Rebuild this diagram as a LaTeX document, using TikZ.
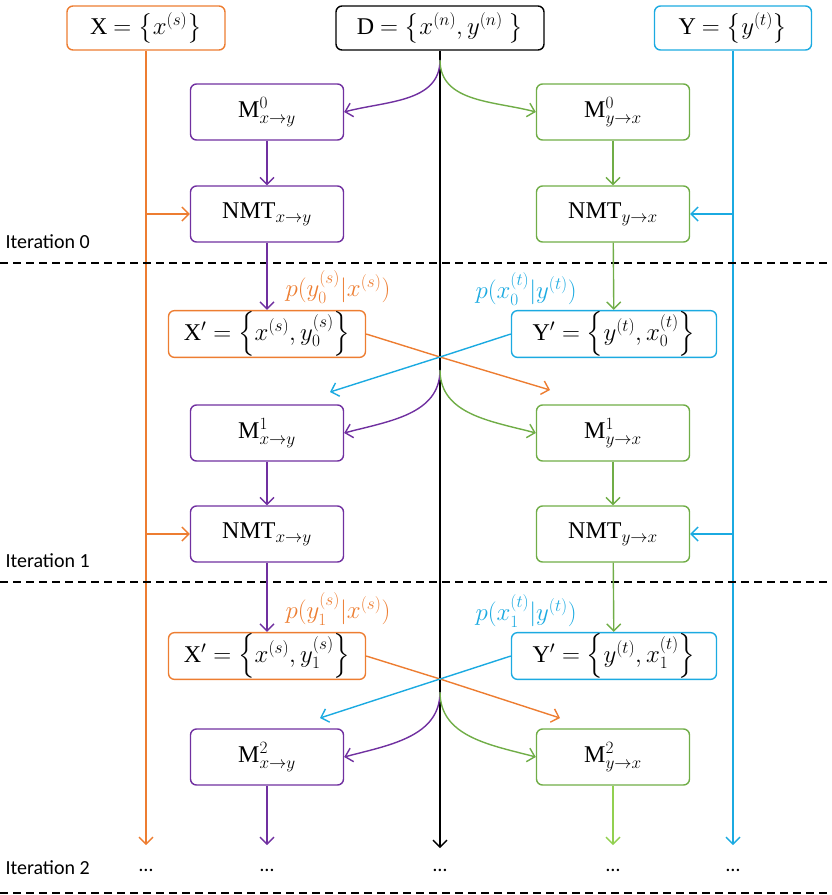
\documentclass[tikz,border=0pt]{standalone}
\usepackage{fontspec}
\setmainfont{Carlito}
\newfontfamily\boxfont{Liberation Serif}
\usepackage{amsmath}
\usetikzlibrary{arrows.meta}
\definecolor{cor}{RGB}{237,125,49}
\definecolor{cpu}{RGB}{112,48,160}
\definecolor{cgr}{RGB}{112,173,71}
\definecolor{clg}{RGB}{146,208,80}
\definecolor{cbl}{RGB}{27,170,225}
\begin{document}
\begin{tikzpicture}[x=1pt,y=-1pt,
  bx/.style={draw,rounded corners=6pt,line width=1.4pt,minimum height=44pt,inner sep=1pt,font=\boxfont\fontsize{24}{28}\selectfont},
  mb/.style={bx,minimum width=153pt,minimum height=56pt},
  ar/.style={line width=1.4pt,-{Straight Barb[length=7pt,width=14pt,line width=1.4pt]}},
  lab/.style={font=\fontsize{24}{28}\selectfont,anchor=west},
  it/.style={font=\fontsize{20}{24}\selectfont,anchor=west},
  dl/.style={dashed,line width=1.2pt,dash pattern=on 8pt off 5pt}]
\useasboundingbox (0,0) rectangle (832,895);
\node[bx,cor,text=black,minimum width=158pt] (X) at (146,28) {X $=\left\{x^{(s)}\right\}$};
\node[bx,black,minimum width=208pt] (D) at (440,28) {D $=\left\{x^{(n)},y^{(n)}\ \right\}$};
\node[bx,cbl,text=black,minimum width=157pt] (Y) at (733,28) {Y $=\left\{y^{(t)}\right\}$};
% iteration 0
\node[mb,cpu,text=black] (M0a) at (267,112) {M$^0_{x\to y}$};
\node[mb,cpu,text=black] (N0a) at (267,214) {NMT$_{x\to y}$};
\node[mb,cgr,text=black] (M0b) at (613,112) {M$^0_{y\to x}$};
\node[mb,cgr,text=black] (N0b) at (613,214) {NMT$_{y\to x}$};
\node[bx,cor,text=black,minimum width=197pt,minimum height=46pt] (Xp0) at (267,334) {X$'=\left\{x^{(s)},y^{(s)}_0\right\}$};
\node[bx,cbl,text=black,minimum width=205pt,minimum height=46pt] (Yp0) at (614,334) {Y$'=\left\{y^{(t)},x^{(t)}_0\right\}$};
\node[mb,cpu,text=black] (M1a) at (267,433) {M$^1_{x\to y}$};
\node[mb,cpu,text=black] (N1a) at (267,534) {NMT$_{x\to y}$};
\node[mb,cgr,text=black] (M1b) at (613,433) {M$^1_{y\to x}$};
\node[mb,cgr,text=black] (N1b) at (613,534) {NMT$_{y\to x}$};
\node[bx,cor,text=black,minimum width=197pt,minimum height=46pt] (Xp1) at (267,656) {X$'=\left\{x^{(s)},y^{(s)}_1\right\}$};
\node[bx,cbl,text=black,minimum width=205pt,minimum height=46pt] (Yp1) at (614,656) {Y$'=\left\{y^{(t)},x^{(t)}_1\right\}$};
\node[mb,cpu,text=black] (M2a) at (267,757) {M$^2_{x\to y}$};
\node[mb,cgr,text=black] (M2b) at (613,757) {M$^2_{y\to x}$};
% labels
\node[lab,cor] (l0a) at (282,287) {$p(y^{(s)}_0|x^{(s)})$};
\node[lab,cbl] (l0b) at (472,289) {$p(x^{(t)}_0|y^{(t)})$};
\node[lab,cor] (l1a) at (282,609) {$p(y^{(s)}_1|x^{(s)})$};
\node[lab,cbl] (l1b) at (472,611) {$p(x^{(t)}_1|y^{(t)})$};
\node[it] (i0) at (2,242) {Iteration 0};
\node[it] (i1) at (2,561) {Iteration 1};
\node[it] (i2) at (2,868) {Iteration 2};
% dots
\foreach \n/\x in {d1/146,d2/267,d3/440,d4/613,d5/733}
  \node[font=\fontsize{20}{24}\selectfont] (\n) at (\x,870) {\dots};
% coordinates
\coordinate (eO) at (146,845); \coordinate (eD) at (440,848); \coordinate (eB) at (733,845);
\coordinate (eM) at (267,845); \coordinate (eG) at (613,845);
\coordinate (c0) at (440,357); \coordinate (c1) at (440,679);
\coordinate (s0) at (440,60); \coordinate (s1) at (440,370); \coordinate (s2) at (440,692);
\coordinate (t0o) at (550,390); \coordinate (t0b) at (330,392);
\coordinate (t1o) at (560,718); \coordinate (t1b) at (320,718);
% main lines
\draw[ar,cor] (X.south) -- (eO);
\draw[ar,black] (D.south) -- (eD);
\draw[ar,cbl] (Y.south) -- (eB);
\foreach \y/\t in {214/N0a,534/N1a} \draw[ar,cor] (146,\y) -- (\t.west);
\foreach \y/\t in {214/N0b,534/N1b} \draw[ar,cbl] (733,\y) -- (\t.east);
% dashed
\draw[dl] (0,263) -- (832,263);
\draw[dl] (0,582) -- (832,582);
\draw[dl] (0,893) -- (832,893);
% vertical
\draw[ar,cpu] (M0a) -- (N0a); \draw[ar,cpu] (N0a) -- (Xp0);
\draw[ar,cgr] (M0b) -- (N0b); \draw[ar,cgr] (N0b) -- (Yp0);
\draw[ar,cpu] (M1a) -- (N1a); \draw[ar,cpu] (N1a) -- (Xp1);
\draw[ar,cgr] (M1b) -- (N1b); \draw[ar,cgr] (N1b) -- (Yp1);
\draw[ar,cpu] (M2a) -- (eM);
\draw[ar,clg] (M2b) -- (eG);
% curves
\foreach \s/\a/\b in {s0/M0a/M0b,s1/M1a/M1b,s2/M2a/M2b}{
  \draw[ar,cpu] (\s) to[out=-90,in=15] (\a.east);
  \draw[ar,cgr] (\s) to[out=-90,in=165] (\b.west);}
% crossings
\draw[ar,cor] (Xp0.east) -- (c0) -- (t0o);
\draw[ar,cbl] (Yp0.west) -- (c0) -- (t0b);
\draw[ar,cor] (Xp1.east) -- (c1) -- (t1o);
\draw[ar,cbl] (Yp1.west) -- (c1) -- (t1b);
\end{tikzpicture}
\end{document}
